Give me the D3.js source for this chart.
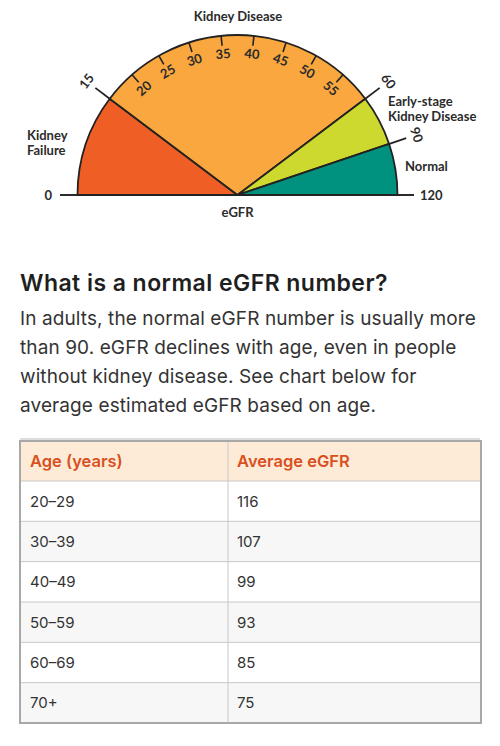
<!DOCTYPE html>
<html>
<head>
<meta charset="utf-8">
<script src="https://cdn.jsdelivr.net/npm/d3@7"></script>
<style>
  html, body { margin: 0; padding: 0; background: #fff; }
  svg { display: block; }
</style>
</head>
<body>
<div id="chart"></div>
<script>
// gauge bands (eGFR ranges)
var bandNames = ["Kidney Failure", "Kidney Disease", "Early-stage Kidney Disease", "Normal"];
var bandStarts = [0, 15, 60, 90];
var bandEnds = [15, 60, 90, 120];
var bandColors = ["#ef5e25", "#f9a73e", "#cdd92e", "#00917f"];

// tick values
var minorTicks = [20, 25, 30, 35, 40, 45, 50, 55];
var majorTicks = [15, 60, 90];
var endTicks = [0, 120];

// table
var tableHeaders = ["Age (years)", "Average eGFR"];
var ageGroups = ["20–29", "30–39", "40–49", "50–59", "60–69", "70+"];
var avgEgfr = [116, 107, 99, 93, 85, 75];

var heading = "What is a normal eGFR number?";
var paragraph = [
    "In adults, the normal eGFR number is usually more",
    "than 90. eGFR declines with age, even in people",
    "without kidney disease. See chart below for",
    "average estimated eGFR based on age."
];

var width = 500;
var height = 746;
var cx = 237.5;
var cy = 195;
var radius = 160;
var labelFont = "Lato, 'Noto Sans', sans-serif";
var textFont = "Inter, Roboto, sans-serif";
var labelSize = 13;

var svg = d3.select("#chart")
    .append("svg")
    .attr("width", width)
    .attr("height", height)
    .attr("viewBox", [0, 0, width, height]);

// the gauge is not evenly spaced: each band gets its own slice of the half circle
var angle = d3.scaleLinear()
    .domain([0, 15, 60, 90, 120])
    .range([-90, -53, 53, 71.4, 90]);

function rad(v) { return angle(v) * Math.PI / 180; }
function px(v, r) { return cx + r * Math.sin(rad(v)); }
function py(v, r) { return cy - r * Math.cos(rad(v)); }

var gauge = svg.append("g");

// baseline
gauge.append("line")
    .attr("x1", 60).attr("x2", 414)
    .attr("y1", cy).attr("y2", cy)
    .attr("stroke", "#2b2b2b")
    .attr("stroke-width", 2);

var arc = d3.arc().innerRadius(0).outerRadius(radius);

gauge.append("g")
    .attr("transform", "translate(" + cx + "," + cy + ")")
    .selectAll("path")
    .data(bandNames)
    .join("path")
    .attr("d", (d, i) => arc({startAngle: rad(bandStarts[i]), endAngle: rad(bandEnds[i])}))
    .attr("fill", (d, i) => bandColors[i])
    .attr("stroke", "#222")
    .attr("stroke-width", 1.8)
    .attr("stroke-linejoin", "round");

// minor ticks inside the orange band
gauge.append("g")
    .selectAll("line")
    .data(minorTicks)
    .join("line")
    .attr("x1", d => px(d, radius))
    .attr("y1", d => py(d, radius))
    .attr("x2", d => px(d, radius - 10))
    .attr("y2", d => py(d, radius - 10))
    .attr("stroke", "#222")
    .attr("stroke-width", 1.6);

gauge.append("g")
    .selectAll("text")
    .data(minorTicks)
    .join("text")
    .attr("transform", d => "translate(" + px(d, 142) + "," + py(d, 142) + ") rotate(" + angle(d) + ")")
    .attr("text-anchor", "middle")
    .attr("dy", "0.36em")
    .attr("font-family", labelFont)
    .attr("font-weight", 700)
    .attr("font-size", labelSize)
    .attr("fill", "#2b2b2b")
    .text(d => d);

// major ticks stick out past the arc
gauge.append("g")
    .selectAll("line")
    .data(majorTicks)
    .join("line")
    .attr("x1", d => px(d, radius - 2))
    .attr("y1", d => py(d, radius - 2))
    .attr("x2", d => px(d, 178))
    .attr("y2", d => py(d, 178))
    .attr("stroke", "#222")
    .attr("stroke-width", 1.8);

gauge.append("g")
    .selectAll("text")
    .data(majorTicks)
    .join("text")
    .attr("transform", d => "translate(" + px(d, 189) + "," + py(d, 189) + ") rotate(" + angle(d) + ")")
    .attr("text-anchor", "middle")
    .attr("dy", "0.36em")
    .attr("font-family", labelFont)
    .attr("font-weight", 700)
    .attr("font-size", labelSize)
    .attr("fill", "#2b2b2b")
    .text(d => d);

// 0 and 120 at the ends of the baseline
gauge.append("g")
    .selectAll("text")
    .data(endTicks)
    .join("text")
    .attr("x", d => d === 0 ? 52 : 420)
    .attr("y", cy)
    .attr("dy", "0.36em")
    .attr("text-anchor", d => d === 0 ? "end" : "start")
    .attr("font-family", labelFont)
    .attr("font-weight", 700)
    .attr("font-size", labelSize)
    .attr("fill", "#2b2b2b")
    .text(d => d);

// band names
var bandLabelPos = [
    {x: 27, y: 135, anchor: "start", lines: ["Kidney", "Failure"]},
    {x: 238, y: 16, anchor: "middle", lines: ["Kidney Disease"]},
    {x: 388, y: 101, anchor: "start", lines: ["Early-stage", "Kidney Disease"]},
    {x: 405, y: 166, anchor: "start", lines: ["Normal"]}
];

bandLabelPos.forEach(function(p) {
    var t = gauge.append("text")
        .attr("x", p.x)
        .attr("y", p.y)
        .attr("text-anchor", p.anchor)
        .attr("font-family", labelFont)
        .attr("font-weight", 700)
        .attr("font-size", labelSize)
        .attr("fill", "#2b2b2b");
    p.lines.forEach(function(line, i) {
        t.append("tspan")
            .attr("x", p.x)
            .attr("dy", i === 0 ? "0.36em" : "1.15em")
            .text(line);
    });
});

gauge.append("text")
    .attr("x", cx)
    .attr("y", 212)
    .attr("dy", "0.36em")
    .attr("text-anchor", "middle")
    .attr("font-family", labelFont)
    .attr("font-weight", 700)
    .attr("font-size", labelSize)
    .attr("fill", "#2b2b2b")
    .text("eGFR");

// heading + paragraph
svg.append("text")
    .attr("x", 20)
    .attr("y", 283)
    .attr("dy", "0.36em")
    .attr("font-family", textFont)
    .attr("font-weight", 600)
    .attr("font-size", 23)
    .attr("letter-spacing", 0.45)
    .attr("fill", "#1f1f1f")
    .text(heading);

svg.append("g")
    .selectAll("text")
    .data(paragraph)
    .join("text")
    .attr("x", 20)
    .attr("y", (d, i) => 318 + i * 29)
    .attr("dy", "0.36em")
    .attr("font-family", textFont)
    .attr("font-size", 19)
    .attr("letter-spacing", 0.1)
    .attr("fill", "#333")
    .text(d => d);

svg.append("line")
    .attr("x1", 20).attr("x2", 480)
    .attr("y1", 439).attr("y2", 439)
    .attr("stroke", "#bbb")
    .attr("stroke-width", 1);

// table
var tableLeft = 20;
var tableRight = 481;
var colSplit = 228;
var headTop = 441;
var headH = 40;

var rowY = d3.scaleBand()
    .domain(ageGroups)
    .range([headTop + headH, 723]);

var table = svg.append("g");

table.append("rect")
    .attr("x", tableLeft).attr("y", headTop)
    .attr("width", tableRight - tableLeft).attr("height", headH)
    .attr("fill", "#fdebd8");

table.append("g")
    .selectAll("rect")
    .data(ageGroups)
    .join("rect")
    .attr("x", tableLeft)
    .attr("y", d => rowY(d))
    .attr("width", tableRight - tableLeft)
    .attr("height", rowY.bandwidth())
    .attr("fill", (d, i) => i % 2 ? "#f7f7f7" : "#fff");

// inner grid
table.append("g")
    .selectAll("line")
    .data(ageGroups)
    .join("line")
    .attr("x1", tableLeft).attr("x2", tableRight)
    .attr("y1", d => rowY(d)).attr("y2", d => rowY(d))
    .attr("stroke", "#c8c8c8")
    .attr("stroke-width", 1);

table.append("line")
    .attr("x1", colSplit).attr("x2", colSplit)
    .attr("y1", headTop).attr("y2", 723)
    .attr("stroke", "#c8c8c8")
    .attr("stroke-width", 1);

table.append("rect")
    .attr("x", tableLeft).attr("y", headTop)
    .attr("width", tableRight - tableLeft).attr("height", 723 - headTop)
    .attr("fill", "none")
    .attr("stroke", "#a8a8a8")
    .attr("stroke-width", 2);

table.append("g")
    .selectAll("text")
    .data(tableHeaders)
    .join("text")
    .attr("x", (d, i) => i === 0 ? 30 : 237)
    .attr("y", headTop + headH / 2)
    .attr("dy", "0.36em")
    .attr("font-family", textFont)
    .attr("font-weight", 600)
    .attr("font-size", 16.5)
    .attr("fill", "#d9501e")
    .text(d => d);

table.append("g")
    .selectAll("text")
    .data(ageGroups)
    .join("text")
    .attr("x", 30)
    .attr("y", d => rowY(d) + rowY.bandwidth() / 2)
    .attr("dy", "0.36em")
    .attr("font-family", textFont)
    .attr("font-size", 15)
    .attr("fill", "#333")
    .text(d => d);

table.append("g")
    .selectAll("text")
    .data(avgEgfr)
    .join("text")
    .attr("x", 237)
    .attr("y", (d, i) => rowY(ageGroups[i]) + rowY.bandwidth() / 2)
    .attr("dy", "0.36em")
    .attr("font-family", textFont)
    .attr("font-size", 15)
    .attr("fill", "#333")
    .text(d => d);
</script>
</body>
</html>
